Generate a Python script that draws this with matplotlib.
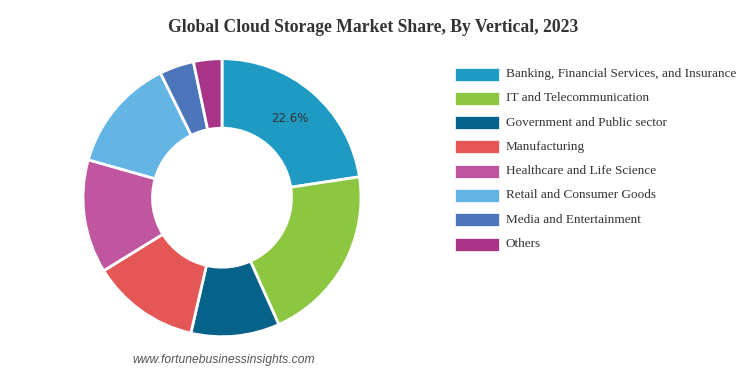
import matplotlib
matplotlib.use("Agg")
import matplotlib.pyplot as plt
from matplotlib.patches import Rectangle
import numpy as np

# === DATA ===
categories = [
    "Banking, Financial Services, and Insurance",
    "IT and Telecommunication",
    "Government and Public sector",
    "Manufacturing",
    "Healthcare and Life Science",
    "Retail and Consumer Goods",
    "Media and Entertainment",
    "Others",
]
shares = [22.6, 20.7, 10.3, 12.6, 13.2, 13.3, 4.0, 3.3]
colors = ["#1e9ac3", "#8dc641", "#07628a", "#e45756",
          "#bf569f", "#64b5e3", "#4c76b9", "#a93589"]
labelled = [0]  # only first slice shows its value

W, H = 745, 372
fig = plt.figure(figsize=(W / 100, H / 100), dpi=100)

# donut
cx, cy, r = 222, 197.7, 139
ax = fig.add_axes([(cx - r) / W, (H - cy - r) / H, 2 * r / W, 2 * r / H])
wedges, _ = ax.pie(shares, colors=colors, startangle=90, counterclock=False,
                   radius=1, wedgeprops=dict(width=0.5, edgecolor="white", linewidth=2))
ax.set_xlim(-1, 1)
ax.set_ylim(-1, 1)
ax.axis("off")

start = 90.0
for i, v in enumerate(shares):
    mid = start - v / 2 * 3.6
    if i in labelled:
        ax.text(0.75 * np.cos(np.radians(mid)), 0.75 * np.sin(np.radians(mid)),
                f"{v}%", ha="center", va="center", fontsize=8.5, color="#333333",
                family="DejaVu Sans")
    start -= v * 3.6

# title
fig.text(373 / W, 1 - 27 / H, "Global Cloud Storage Market Share, By Vertical, 2023",
         ha="center", va="center", fontsize=12.7, fontweight="bold",
         family="Liberation Serif", color="#333333")

# legend (drawn by hand to match layout)
for i, (name, col) in enumerate(zip(categories, colors)):
    y = 74 + i * 24.3
    fig.patches.append(Rectangle((455 / W, 1 - (y + 6.5) / H), 44 / W, 13 / H,
                                 transform=fig.transFigure, facecolor=col,
                                 edgecolor="white", linewidth=0.5))
    fig.text(506 / W, 1 - y / H, name, ha="left", va="center", fontsize=9.5,
             family="Liberation Serif", color="#333333")

# source footer
fig.text(132 / W, 1 - 360 / H, "www.fortunebusinessinsights.com", ha="left",
         va="center", fontsize=8.7, style="italic", family="Liberation Sans",
         color="#555555")

fig.savefig("out.png", dpi=100)
